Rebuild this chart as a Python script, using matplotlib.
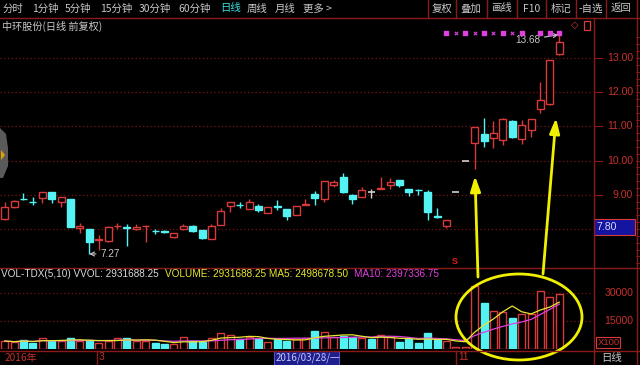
import matplotlib.pyplot as plt
import numpy as np
import pandas as pd
from matplotlib.patches import Rectangle, Ellipse, Polygon

plt.rcParams['font.family'] = ['Noto Sans CJK SC', 'DejaVu Sans']

# daily candles (qfq), oldest -> newest
opens = [8.29, 8.63, 8.88, 8.79, 8.90, 9.07, 8.78, 8.88, 8.02, 8.00,
         7.69, 7.66, 8.08, 8.05, 7.99, 8.08, 7.95, 7.93, 7.76, 7.99,
         8.10, 7.97, 7.72, 8.13, 8.66, 8.71, 8.59, 8.68, 8.48, 8.66,
         8.58, 8.41, 8.71, 9.02, 8.88, 9.29, 9.53, 9.00, 8.94, 9.07,
         9.18, 9.30, 9.43, 9.16, 9.14, 9.09, 8.37, 8.09, 9.09, 10.00,
         10.51, 10.77, 10.65, 10.60, 11.16, 10.62, 10.89, 11.50, 11.65, 13.12]
closes = [8.65, 8.82, 8.87, 8.78, 9.07, 8.88, 8.93, 8.07, 8.10, 7.63,
          7.70, 8.07, 8.09, 8.04, 8.07, 8.09, 7.94, 7.92, 7.88, 8.10,
          7.94, 7.74, 8.09, 8.52, 8.78, 8.70, 8.78, 8.55, 8.63, 8.65,
          8.38, 8.67, 8.72, 8.91, 9.40, 9.37, 9.07, 8.88, 9.14, 9.07,
          9.19, 9.38, 9.28, 9.08, 9.13, 8.49, 8.36, 8.26, 9.09, 10.00,
          10.98, 10.58, 10.80, 11.23, 10.68, 11.03, 11.21, 11.78, 12.94, 13.48]
highs = [8.80, 8.84, 9.04, 8.93, 9.08, 9.08, 8.94, 8.89, 8.17, 8.01,
         7.82, 8.08, 8.18, 8.14, 8.16, 8.11, 8.00, 7.97, 7.89, 8.16,
         8.11, 7.98, 8.14, 8.62, 8.79, 8.78, 8.89, 8.72, 8.64, 8.84,
         8.59, 8.68, 8.89, 9.12, 9.41, 9.42, 9.63, 9.02, 9.24, 9.17,
         9.53, 9.50, 9.44, 9.17, 9.18, 9.14, 8.61, 8.27, 9.09, 10.00,
         10.99, 11.25, 11.15, 11.24, 11.20, 11.19, 11.22, 12.31, 12.95, 13.68]
lows = [8.26, 8.62, 8.85, 8.70, 8.77, 8.75, 8.65, 8.06, 7.87, 7.27,
        7.39, 7.62, 8.00, 7.50, 7.98, 7.63, 7.85, 7.87, 7.73, 7.98,
        7.90, 7.70, 7.71, 8.12, 8.49, 8.62, 8.58, 8.51, 8.47, 8.56,
        8.25, 8.40, 8.71, 8.69, 8.80, 9.24, 9.04, 8.73, 8.93, 8.90,
        9.16, 9.18, 9.24, 8.97, 9.00, 8.26, 8.33, 8.03, 9.09, 10.00,
        9.74, 10.40, 10.36, 10.45, 10.65, 10.50, 10.70, 11.40, 11.64, 13.10]
# volume in units of 100 shares
volumes = [4400, 3700, 4950, 3550, 6200, 4400, 4400, 5800, 4400, 4950,
           3550, 4400, 5800, 6200, 4400, 4400, 3550, 2650, 2800, 6350,
           4400, 4050, 6200, 8800, 7600, 5300, 6350, 5500, 4050, 5300,
           4600, 5300, 5800, 9700, 9000, 6350, 7050, 6350, 5800, 5300,
           7600, 6350, 4050, 5300, 3200, 8500, 4950, 4400, 1050, 1050,
           33800, 24300, 20300, 20000, 16400, 18500, 18500, 30800, 27800, 29317]

signal_sq = [47, 49, 51, 53, 55, 57, 58, 59]
signal_x = [48, 50, 52, 54]

price_grid = [8, 9, 10, 11, 12, 13]
price_labels = [9, 10, 11, 12, 13]
vol_labels = [15000, 30000]
date_text = ['2016年', '3', '2016/03/28/一', '11']

left_menu = ['分时', '1分钟', '5分钟', '15分钟', '30分钟', '60分钟', '日线', '周线', '月线', '更多 >']
right_menu = ['复权', '叠加', '画线', 'F10', '标记', '-自选', '返回']

RED = '#d83a3a'
CYAN = '#54f2f2'
GRID = '#7a1212'
LINE = '#8a1a1a'
AXT = '#c8302c'
TXT = '#c8c8c8'
YEL = '#f0f000'
MAG = '#e040e0'
NUM = 'Liberation Sans'

W, H = 640, 365
fig = plt.figure(figsize=(6.4, 3.65), dpi=100, facecolor='black')


def rect(x0, y0, x1, y1):
    return [x0 / W, 1 - y1 / H, (x1 - x0) / W, (y1 - y0) / H]


ax = fig.add_axes(rect(0, 33, 593, 268))
axv = fig.add_axes(rect(0, 268, 593, 349.3))
for a in (ax, axv):
    a.set_facecolor('black')
    a.set_xticks([])
    a.set_yticks([])
    for s in a.spines.values():
        s.set_visible(False)
    a.set_xlim(-0.5, 62.59)
ax.set_ylim(6.860, 13.731)
axv.set_ylim(0, 43090)

bw = 0.74
n = len(opens)
idx = np.arange(n)

# price panel
for g in price_grid:
    ax.axhline(g, color=GRID, lw=0.9, ls=(0, (1, 2)), zorder=1)
for i in range(n):
    o, h, l, c = opens[i], highs[i], lows[i], closes[i]
    if c > o:
        col = RED
    elif c < o:
        col = CYAN
    else:
        col = '#d0d0d0'
    if h > l:
        ax.vlines(i, l, h, color=col, lw=1, zorder=2)
    if c != o:
        ax.add_patch(Rectangle((i - bw / 2, min(o, c)), bw, abs(c - o),
                               facecolor='black' if c > o else col,
                               edgecolor=col, lw=1, zorder=3))
    else:
        ax.hlines(c, i - bw / 2, i + bw / 2, color=col, lw=1.2, zorder=3)

ax.scatter(signal_sq, [13.72] * len(signal_sq), marker='s', s=7, color=MAG, zorder=4, clip_on=False)
ax.scatter(signal_x, [13.72] * len(signal_x), marker='x', s=6, lw=0.8, color=MAG, zorder=4,
           clip_on=False)

imax = int(np.argmax(highs))
imin = int(np.argmin(lows))
ax.annotate(f'{highs[imax]:.2f}', xy=(imax - 0.1, highs[imax]), xytext=(54.3, 13.53),
            color=TXT, fontsize=7.2, family=NUM, ha='left', va='center',
            arrowprops=dict(arrowstyle='->', color=TXT, lw=0.8, shrinkA=1, shrinkB=0))
ax.annotate(f'{lows[imin]:.2f}', xy=(imin, lows[imin]), xytext=(imin + 1.15, lows[imin]),
            color=TXT, fontsize=7.2, family=NUM, ha='left', va='center',
            arrowprops=dict(arrowstyle='->', color=TXT, lw=0.8, shrinkA=1, shrinkB=0))

for p in price_labels:
    ax.text(633 / 593, p, f'{p:.2f}', transform=ax.get_yaxis_transform(), ha='right', va='center',
            color=AXT, fontsize=7.6, family=NUM, clip_on=False)
    ax.plot([594 / 593, 602 / 593], [p, p], transform=ax.get_yaxis_transform(), color=LINE,
            lw=0.8, clip_on=False)
for p in np.arange(7.0, 13.8, 0.2):
    ax.plot([636 / 593, 640 / 593], [p, p], transform=ax.get_yaxis_transform(), color=LINE,
            lw=0.6, clip_on=False)

# volume panel
for v in vol_labels:
    axv.axhline(v, color=GRID, lw=0.9, ls=(0, (1, 2)), zorder=1)
    axv.text(633 / 593, v, str(v), transform=axv.get_yaxis_transform(), ha='right', va='center',
             color=AXT, fontsize=7.6, family=NUM, clip_on=False)
for i in range(n):
    up = closes[i] > opens[i] or (closes[i] == opens[i] and (i == 0 or closes[i] >= closes[i - 1]))
    col = RED if up else CYAN
    axv.add_patch(Rectangle((i - bw / 2, 0), bw, volumes[i], facecolor='black' if up else col,
                            edgecolor=col, lw=1, zorder=2))
vs = pd.Series(volumes, dtype=float)
axv.plot(idx, vs.rolling(10, min_periods=1).mean(), color=MAG, lw=0.9, zorder=3)
axv.plot(idx, vs.rolling(5, min_periods=1).mean(), color='#e6e632', lw=0.9, zorder=3)

# screen decorations in pixel coordinates
deco = fig.add_axes([0, 0, 1, 1])
deco.set_xlim(0, W)
deco.set_ylim(H, 0)
deco.axis('off')
deco.patch.set_alpha(0)

deco.plot([0, W], [17.5, 17.5], color=LINE, lw=1)
deco.plot([0, W], [267.5, 267.5], color=LINE, lw=1)
deco.plot([0, W], [350.5, 350.5], color=LINE, lw=1)
deco.plot([593.5, 593.5], [17.5, H], color=LINE, lw=1)
deco.plot([636.5, 636.5], [17.5, H], color=LINE, lw=1)

xs = [3, 32, 65, 100, 139, 178, 220, 247, 275, 303]
for t, x0 in zip(left_menu, xs):
    deco.text(x0, 8.5, t, color='#3ce0e0' if t == '日线' else TXT, fontsize=7.5, ha='left', va='center')
seps = [427.7, 455.7, 486.7, 516.7, 546, 576, 606, 636.5]
for s in seps:
    deco.plot([s, s], [0, 17.5], color=LINE, lw=1)
for k, t in enumerate(right_menu):
    deco.text((seps[k] + seps[k + 1]) / 2, 8.5, t, color=TXT, fontsize=7.5, ha='center', va='center')

deco.text(2, 26, '中环股份(日线 前复权)', color=TXT, fontsize=7.3, ha='left', va='center')
deco.text(575, 25, '◇', color=RED, fontsize=7, ha='center', va='center', family='DejaVu Sans')
deco.add_patch(Rectangle((584, 20.5), 6, 9, facecolor='none', edgecolor=RED, lw=0.9))

deco.add_patch(Polygon([(0, 128), (6, 134), (8, 148), (8, 166), (3, 178), (0, 178)],
                       facecolor='#5a5a5a', edgecolor='none'))
deco.add_patch(Polygon([(1, 150), (5, 155), (1, 160)], facecolor='#e0a000', edgecolor='none'))

deco.add_patch(Rectangle((594, 219), 41, 16, facecolor='#1414a0', edgecolor=RED, lw=0.8))
deco.text(596, 227, '7.80', color='#d8d8ff', fontsize=7.6, family=NUM, ha='left', va='center')
deco.add_patch(Rectangle((596, 337), 24, 10.5, facecolor='none', edgecolor=RED, lw=0.8))
deco.text(597.5, 342.5, 'X100', color=AXT, fontsize=6.8, family=NUM, ha='left', va='center')
deco.text(612, 357.5, '日线', color=TXT, fontsize=7.5, ha='center', va='center')

deco.text(1, 274, 'VOL-TDX(5,10) VVOL: 2931688.25', color='#d8d8d8', fontsize=7.2, family=NUM,
          ha='left', va='center')
deco.text(165, 274, 'VOLUME: 2931688.25 MA5: 2498678.50', color='#e6e632', fontsize=7.2, family=NUM,
          ha='left', va='center')
deco.text(354, 274, 'MA10: 2397336.75', color=MAG, fontsize=7.2, family=NUM, ha='left', va='center')

# date strip
deco.text(5, 357.5, date_text[0], color=AXT, fontsize=7.3, ha='left', va='center')
deco.plot([96.5, 96.5], [351, 365], color=LINE, lw=1)
deco.text(99, 357.5, date_text[1], color=AXT, fontsize=7.3, family=NUM, ha='left', va='center')
deco.add_patch(Rectangle((274, 350.5), 65, 14, facecolor='#1e1e8c', edgecolor='#5050d0', lw=0.8))
deco.text(276, 357.5, date_text[2], color='#c8c8ff', fontsize=7, ha='left', va='center')
deco.plot([455.5, 455.5], [351, 365], color=LINE, lw=1)
deco.text(458, 357.5, date_text[3], color=AXT, fontsize=7.3, family=NUM, ha='left', va='center')

deco.text(455, 262, 'S', color='#e02020', fontsize=6.5, fontweight='bold', family=NUM,
          ha='center', va='center')

# highlight drawn on the screenshot
deco.add_patch(Ellipse((519, 317), 126, 86, facecolor='none', edgecolor=YEL, lw=2))
deco.annotate('', xy=(475, 176), xytext=(478, 277),
              arrowprops=dict(arrowstyle='-|>,head_width=0.3,head_length=0.9', color=YEL, lw=2,
                              shrinkA=0, shrinkB=0))
deco.annotate('', xy=(556, 118), xytext=(543, 274),
              arrowprops=dict(arrowstyle='-|>,head_width=0.3,head_length=0.9', color=YEL, lw=2,
                              shrinkA=0, shrinkB=0))

fig.savefig('out.png', dpi=100, facecolor='black')
